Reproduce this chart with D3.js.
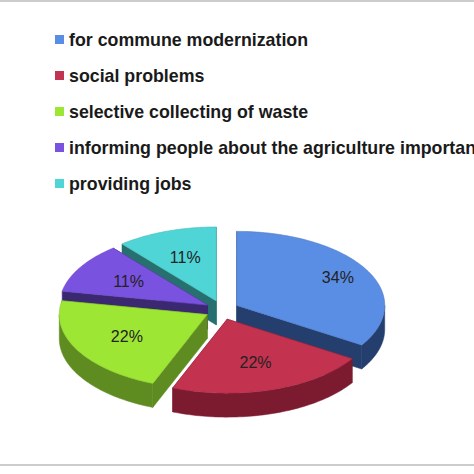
<!DOCTYPE html>
<html><head><meta charset="utf-8">
<script src="https://cdn.jsdelivr.net/npm/d3@7"></script>
<style>body{margin:0;background:#fff}</style>
</head><body>
<div id="chart"></div>
<script>
// Chart data
var categories = ["for commune modernization", "social problems", "selective collecting of waste",
  "informing people about the agriculture importance", "providing jobs"];
var values = [34, 22, 22, 11, 11];
var labels = ["34%", "22%", "22%", "11%", "11%"];
var topColors = ["#5a8de4", "#c3324f", "#9de634", "#7a52e0", "#4fd5d5"];
var sideColors = ["#243f6e", "#7c1b30", "#5f8c20", "#3a2870", "#267070"];

var W = 474, H = 474;
var cx = 222, cy = 310, rx = 148, ry = 74, depth = 24, explode = 12;

var svg = d3.select("#chart").append("svg").attr("width", W).attr("height", H);

// frame lines
svg.append("line").attr("x1", 0).attr("x2", W).attr("y1", 1).attr("y2", 1).attr("stroke", "#999");
svg.append("line").attr("x1", 0).attr("x2", W).attr("y1", 465).attr("y2", 465).attr("stroke", "#999");

// legend
var legend = svg.selectAll("g.leg").data(categories).enter().append("g")
  .attr("transform", function(d, i){ return "translate(55," + (40 + i * 36) + ")"; });
legend.append("rect").attr("x", 0).attr("y", -5).attr("width", 9).attr("height", 9)
  .attr("fill", function(d, i){ return topColors[i]; });
legend.append("text").attr("x", 14).attr("y", 6).text(function(d){ return d; })
  .attr("font-family", "Liberation Sans, Arial, sans-serif").attr("font-weight", "bold")
  .attr("font-size", "17.8px").attr("fill", "#1a1a1a");

var pie = d3.pie().sort(null).startAngle(0).endAngle(2 * Math.PI);
var arcs = pie(values);

function pt(a, ox, oy, dz){
  return [cx + ox + rx * Math.sin(a), cy + oy - ry * Math.cos(a) + (dz || 0)];
}

arcs.forEach(function(d, i){
  var mid = (d.startAngle + d.endAngle) / 2;
  d.ox = explode * Math.sin(mid) * 1.4;
  d.oy = -explode * Math.cos(mid) * 0.8;
  d.mid = mid; d.i = i;
});

// back to front
var order = arcs.slice().sort(function(a, b){ return -Math.cos(a.mid) - (-Math.cos(b.mid)); });

order.forEach(function(d){
  var i = d.i, g = svg.append("g");
  var c = [cx + d.ox, cy + d.oy];
  // radial walls
  [d.startAngle, d.endAngle].forEach(function(a){
    var p = pt(a, d.ox, d.oy);
    g.append("path").attr("fill", sideColors[i]).attr("stroke", sideColors[i]).attr("stroke-width", 0.5)
      .attr("d", "M" + c + "L" + p + "L" + [p[0], p[1] + depth] + "L" + [c[0], c[1] + depth] + "Z");
  });
  // outer rim, visible part
  var a0 = Math.max(d.startAngle, Math.PI / 2), a1 = Math.min(d.endAngle, 3 * Math.PI / 2);
  if (a1 > a0) {
    var top = [], bot = [];
    for (var k = 0; k <= 60; k++) {
      var a = a0 + (a1 - a0) * k / 60;
      top.push(pt(a, d.ox, d.oy));
      bot.push(pt(a, d.ox, d.oy, depth));
    }
    g.append("path").attr("fill", sideColors[i]).attr("stroke", sideColors[i]).attr("stroke-width", 0.5)
      .attr("d", "M" + top.join("L") + "L" + bot.reverse().join("L") + "Z");
  }
  // top face
  var pts = [c];
  for (var k = 0; k <= 80; k++) {
    pts.push(pt(d.startAngle + (d.endAngle - d.startAngle) * k / 80, d.ox, d.oy));
  }
  g.append("path").attr("fill", topColors[i]).attr("stroke", d3.color(topColors[i]).darker(0.4))
    .attr("stroke-width", 0.6).attr("d", "M" + pts.join("L") + "Z");
  // label
  var lf = i === 0 ? 0.78 : 0.62;
  g.append("text").attr("x", cx + d.ox + lf * rx * Math.sin(d.mid))
    .attr("y", cy + d.oy - lf * ry * Math.cos(d.mid) + 5)
    .attr("text-anchor", "middle").attr("font-family", "Liberation Sans, Arial, sans-serif")
    .attr("font-size", "16px").attr("fill", "#222").text(labels[i]);
});
</script>
</body></html>
